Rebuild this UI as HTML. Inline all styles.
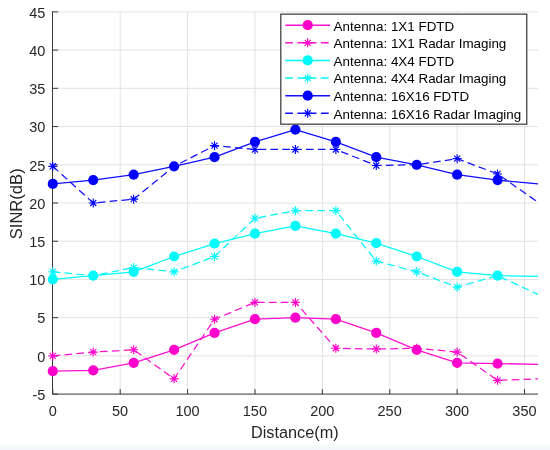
<!DOCTYPE html>
<html lang="en"><head><meta charset="utf-8"><title>SINR vs Distance</title>
<style>html,body{margin:0;padding:0;background:#fff;}body{width:550px;height:450px;position:relative;overflow:hidden;font-family:"Liberation Sans",Arial,sans-serif;}</style>
</head><body>
<svg width="550" height="450" viewBox="0 0 550 450" style="display:block;position:absolute;left:0;top:0" font-family="Liberation Sans, Arial, Helvetica, sans-serif">
<rect width="550" height="450" fill="#fff"/>
<defs><linearGradient id="bs" x1="0" y1="0" x2="0" y2="1"><stop offset="0" stop-color="#ffffff"/><stop offset="0.45" stop-color="#f5fafb"/><stop offset="1" stop-color="#f2f8fa"/></linearGradient></defs>
<rect x="0" y="443.5" width="550" height="6.5" fill="url(#bs)"/>
<path d="M52.80 355.90H538.01M52.80 317.67H538.01M52.80 279.45H538.01M52.80 241.22H538.01M52.80 203.00H538.01M52.80 164.77H538.01M52.80 126.55H538.01M52.80 88.32H538.01M52.80 50.10H538.01M52.80 11.88H538.01M120.19 394.12V11.88M187.58 394.12V11.88M254.97 394.12V11.88M322.36 394.12V11.88M389.75 394.12V11.88M457.14 394.12V11.88M524.53 394.12V11.88" stroke="#e2e2e2" stroke-width="1" fill="none"/>
<path d="M52.5 11.38V394.12H538.01M52.5 394.12h5.5M52.5 355.90h5.5M52.5 317.67h5.5M52.5 279.45h5.5M52.5 241.22h5.5M52.5 203.00h5.5M52.5 164.77h5.5M52.5 126.55h5.5M52.5 88.32h5.5M52.5 50.10h5.5M52.5 11.88h5.5M52.80 394.12v-5M120.19 394.12v-5M187.58 394.12v-5M254.97 394.12v-5M322.36 394.12v-5M389.75 394.12v-5M457.14 394.12v-5M524.53 394.12v-5" stroke="#383838" stroke-width="1" fill="none"/>
<polyline points="52.80,371.19 93.23,370.43 133.67,362.78 174.10,349.78 214.54,332.96 254.97,319.20 295.40,317.67 335.84,319.20 376.27,332.96 416.71,349.78 457.14,362.78 497.57,363.54 538.01,364.31" fill="none" stroke="#ff10d0" stroke-width="1.3" stroke-linejoin="round"/>
<circle cx="52.80" cy="371.19" r="5.1" fill="#ff00cc"/>
<circle cx="93.23" cy="370.43" r="5.1" fill="#ff00cc"/>
<circle cx="133.67" cy="362.78" r="5.1" fill="#ff00cc"/>
<circle cx="174.10" cy="349.78" r="5.1" fill="#ff00cc"/>
<circle cx="214.54" cy="332.96" r="5.1" fill="#ff00cc"/>
<circle cx="254.97" cy="319.20" r="5.1" fill="#ff00cc"/>
<circle cx="295.40" cy="317.67" r="5.1" fill="#ff00cc"/>
<circle cx="335.84" cy="319.20" r="5.1" fill="#ff00cc"/>
<circle cx="376.27" cy="332.96" r="5.1" fill="#ff00cc"/>
<circle cx="416.71" cy="349.78" r="5.1" fill="#ff00cc"/>
<circle cx="457.14" cy="362.78" r="5.1" fill="#ff00cc"/>
<circle cx="497.57" cy="363.54" r="5.1" fill="#ff00cc"/>
<polyline points="52.80,355.90 93.23,352.08 133.67,349.78 174.10,378.83 214.54,319.20 254.97,302.38 295.40,302.38 335.84,348.25 376.27,349.02 416.71,348.25 457.14,352.08 497.57,380.36 538.01,378.83" fill="none" stroke="#ff10d0" stroke-width="1.25" stroke-dasharray="7.6 4.25" stroke-linejoin="round"/>
<path d="M48.30 355.90L57.30 355.90M49.78 352.88L55.82 358.92M52.80 351.40L52.80 360.40M55.82 352.88L49.78 358.92" stroke="#ff00cc" stroke-width="1.15" fill="none"/>
<path d="M88.73 352.08L97.73 352.08M90.21 349.05L96.26 355.10M93.23 347.58L93.23 356.58M96.26 349.05L90.21 355.10" stroke="#ff00cc" stroke-width="1.15" fill="none"/>
<path d="M129.17 349.78L138.17 349.78M130.65 346.76L136.69 352.81M133.67 345.28L133.67 354.28M136.69 346.76L130.65 352.81" stroke="#ff00cc" stroke-width="1.15" fill="none"/>
<path d="M169.60 378.83L178.60 378.83M171.08 375.81L177.12 381.86M174.10 374.33L174.10 383.33M177.12 375.81L171.08 381.86" stroke="#ff00cc" stroke-width="1.15" fill="none"/>
<path d="M210.04 319.20L219.04 319.20M211.51 316.18L217.56 322.23M214.54 314.70L214.54 323.70M217.56 316.18L211.51 322.23" stroke="#ff00cc" stroke-width="1.15" fill="none"/>
<path d="M250.47 302.38L259.47 302.38M251.95 299.36L257.99 305.41M254.97 297.88L254.97 306.88M257.99 299.36L251.95 305.41" stroke="#ff00cc" stroke-width="1.15" fill="none"/>
<path d="M290.90 302.38L299.90 302.38M292.38 299.36L298.43 305.41M295.40 297.88L295.40 306.88M298.43 299.36L292.38 305.41" stroke="#ff00cc" stroke-width="1.15" fill="none"/>
<path d="M331.34 348.25L340.34 348.25M332.82 345.23L338.86 351.28M335.84 343.75L335.84 352.75M338.86 345.23L332.82 351.28" stroke="#ff00cc" stroke-width="1.15" fill="none"/>
<path d="M371.77 349.02L380.77 349.02M373.25 346.00L379.29 352.04M376.27 344.52L376.27 353.52M379.29 346.00L373.25 352.04" stroke="#ff00cc" stroke-width="1.15" fill="none"/>
<path d="M412.21 348.25L421.21 348.25M413.68 345.23L419.73 351.28M416.71 343.75L416.71 352.75M419.73 345.23L413.68 351.28" stroke="#ff00cc" stroke-width="1.15" fill="none"/>
<path d="M452.64 352.08L461.64 352.08M454.12 349.05L460.16 355.10M457.14 347.58L457.14 356.58M460.16 349.05L454.12 355.10" stroke="#ff00cc" stroke-width="1.15" fill="none"/>
<path d="M493.07 380.36L502.07 380.36M494.55 377.34L500.60 383.39M497.57 375.86L497.57 384.86M500.60 377.34L494.55 383.39" stroke="#ff00cc" stroke-width="1.15" fill="none"/>
<polyline points="52.80,279.45 93.23,275.63 133.67,271.80 174.10,256.51 214.54,243.52 254.97,233.58 295.40,225.93 335.84,233.58 376.27,243.14 416.71,256.51 457.14,271.80 497.57,275.63 538.01,276.39" fill="none" stroke="#00fafa" stroke-width="1.3" stroke-linejoin="round"/>
<circle cx="52.80" cy="279.45" r="5.1" fill="#00fafa"/>
<circle cx="93.23" cy="275.63" r="5.1" fill="#00fafa"/>
<circle cx="133.67" cy="271.80" r="5.1" fill="#00fafa"/>
<circle cx="174.10" cy="256.51" r="5.1" fill="#00fafa"/>
<circle cx="214.54" cy="243.52" r="5.1" fill="#00fafa"/>
<circle cx="254.97" cy="233.58" r="5.1" fill="#00fafa"/>
<circle cx="295.40" cy="225.93" r="5.1" fill="#00fafa"/>
<circle cx="335.84" cy="233.58" r="5.1" fill="#00fafa"/>
<circle cx="376.27" cy="243.14" r="5.1" fill="#00fafa"/>
<circle cx="416.71" cy="256.51" r="5.1" fill="#00fafa"/>
<circle cx="457.14" cy="271.80" r="5.1" fill="#00fafa"/>
<circle cx="497.57" cy="275.63" r="5.1" fill="#00fafa"/>
<polyline points="52.80,271.80 93.23,275.63 133.67,267.60 174.10,271.80 214.54,256.51 254.97,218.29 295.40,210.64 335.84,210.64 376.27,261.10 416.71,271.80 457.14,287.09 497.57,275.63 538.01,294.36" fill="none" stroke="#00fafa" stroke-width="1.25" stroke-dasharray="7.6 4.25" stroke-linejoin="round"/>
<path d="M48.30 271.80L57.30 271.80M49.78 268.78L55.82 274.83M52.80 267.30L52.80 276.30M55.82 268.78L49.78 274.83" stroke="#00fafa" stroke-width="1.15" fill="none"/>
<path d="M88.73 275.63L97.73 275.63M90.21 272.60L96.26 278.65M93.23 271.13L93.23 280.13M96.26 272.60L90.21 278.65" stroke="#00fafa" stroke-width="1.15" fill="none"/>
<path d="M129.17 267.60L138.17 267.60M130.65 264.58L136.69 270.62M133.67 263.10L133.67 272.10M136.69 264.58L130.65 270.62" stroke="#00fafa" stroke-width="1.15" fill="none"/>
<path d="M169.60 271.80L178.60 271.80M171.08 268.78L177.12 274.83M174.10 267.30L174.10 276.30M177.12 268.78L171.08 274.83" stroke="#00fafa" stroke-width="1.15" fill="none"/>
<path d="M210.04 256.51L219.04 256.51M211.51 253.49L217.56 259.54M214.54 252.01L214.54 261.01M217.56 253.49L211.51 259.54" stroke="#00fafa" stroke-width="1.15" fill="none"/>
<path d="M250.47 218.29L259.47 218.29M251.95 215.27L257.99 221.31M254.97 213.79L254.97 222.79M257.99 215.27L251.95 221.31" stroke="#00fafa" stroke-width="1.15" fill="none"/>
<path d="M290.90 210.64L299.90 210.64M292.38 207.62L298.43 213.67M295.40 206.14L295.40 215.14M298.43 207.62L292.38 213.67" stroke="#00fafa" stroke-width="1.15" fill="none"/>
<path d="M331.34 210.64L340.34 210.64M332.82 207.62L338.86 213.67M335.84 206.14L335.84 215.14M338.86 207.62L332.82 213.67" stroke="#00fafa" stroke-width="1.15" fill="none"/>
<path d="M371.77 261.10L380.77 261.10M373.25 258.08L379.29 264.12M376.27 256.60L376.27 265.60M379.29 258.08L373.25 264.12" stroke="#00fafa" stroke-width="1.15" fill="none"/>
<path d="M412.21 271.80L421.21 271.80M413.68 268.78L419.73 274.83M416.71 267.30L416.71 276.30M419.73 268.78L413.68 274.83" stroke="#00fafa" stroke-width="1.15" fill="none"/>
<path d="M452.64 287.09L461.64 287.09M454.12 284.07L460.16 290.12M457.14 282.59L457.14 291.59M460.16 284.07L454.12 290.12" stroke="#00fafa" stroke-width="1.15" fill="none"/>
<path d="M493.07 275.63L502.07 275.63M494.55 272.60L500.60 278.65M497.57 271.13L497.57 280.13M500.60 272.60L494.55 278.65" stroke="#00fafa" stroke-width="1.15" fill="none"/>
<polyline points="52.80,183.89 93.23,180.06 133.67,174.71 174.10,166.30 214.54,157.13 254.97,141.84 295.40,129.61 335.84,141.84 376.27,157.13 416.71,164.77 457.14,174.71 497.57,180.06 538.01,183.89" fill="none" stroke="#1010ff" stroke-width="1.3" stroke-linejoin="round"/>
<circle cx="52.80" cy="183.89" r="5.1" fill="#0000ff"/>
<circle cx="93.23" cy="180.06" r="5.1" fill="#0000ff"/>
<circle cx="133.67" cy="174.71" r="5.1" fill="#0000ff"/>
<circle cx="174.10" cy="166.30" r="5.1" fill="#0000ff"/>
<circle cx="214.54" cy="157.13" r="5.1" fill="#0000ff"/>
<circle cx="254.97" cy="141.84" r="5.1" fill="#0000ff"/>
<circle cx="295.40" cy="129.61" r="5.1" fill="#0000ff"/>
<circle cx="335.84" cy="141.84" r="5.1" fill="#0000ff"/>
<circle cx="376.27" cy="157.13" r="5.1" fill="#0000ff"/>
<circle cx="416.71" cy="164.77" r="5.1" fill="#0000ff"/>
<circle cx="457.14" cy="174.71" r="5.1" fill="#0000ff"/>
<circle cx="497.57" cy="180.06" r="5.1" fill="#0000ff"/>
<polyline points="52.80,166.30 93.23,203.00 133.67,199.18 174.10,166.30 214.54,145.66 254.97,149.48 295.40,149.48 335.84,149.48 376.27,165.54 416.71,164.77 457.14,158.66 497.57,173.95 538.01,202.24" fill="none" stroke="#1010ff" stroke-width="1.25" stroke-dasharray="7.6 4.25" stroke-linejoin="round"/>
<path d="M48.30 166.30L57.30 166.30M49.78 163.28L55.82 169.33M52.80 161.80L52.80 170.80M55.82 163.28L49.78 169.33" stroke="#0000ff" stroke-width="1.15" fill="none"/>
<path d="M88.73 203.00L97.73 203.00M90.21 199.98L96.26 206.02M93.23 198.50L93.23 207.50M96.26 199.98L90.21 206.02" stroke="#0000ff" stroke-width="1.15" fill="none"/>
<path d="M129.17 199.18L138.17 199.18M130.65 196.15L136.69 202.20M133.67 194.68L133.67 203.68M136.69 196.15L130.65 202.20" stroke="#0000ff" stroke-width="1.15" fill="none"/>
<path d="M169.60 166.30L178.60 166.30M171.08 163.28L177.12 169.33M174.10 161.80L174.10 170.80M177.12 163.28L171.08 169.33" stroke="#0000ff" stroke-width="1.15" fill="none"/>
<path d="M210.04 145.66L219.04 145.66M211.51 142.64L217.56 148.69M214.54 141.16L214.54 150.16M217.56 142.64L211.51 148.69" stroke="#0000ff" stroke-width="1.15" fill="none"/>
<path d="M250.47 149.48L259.47 149.48M251.95 146.46L257.99 152.51M254.97 144.98L254.97 153.98M257.99 146.46L251.95 152.51" stroke="#0000ff" stroke-width="1.15" fill="none"/>
<path d="M290.90 149.48L299.90 149.48M292.38 146.46L298.43 152.51M295.40 144.98L295.40 153.98M298.43 146.46L292.38 152.51" stroke="#0000ff" stroke-width="1.15" fill="none"/>
<path d="M331.34 149.48L340.34 149.48M332.82 146.46L338.86 152.51M335.84 144.98L335.84 153.98M338.86 146.46L332.82 152.51" stroke="#0000ff" stroke-width="1.15" fill="none"/>
<path d="M371.77 165.54L380.77 165.54M373.25 162.52L379.29 168.56M376.27 161.04L376.27 170.04M379.29 162.52L373.25 168.56" stroke="#0000ff" stroke-width="1.15" fill="none"/>
<path d="M412.21 164.77L421.21 164.77M413.68 161.75L419.73 167.80M416.71 160.27L416.71 169.27M419.73 161.75L413.68 167.80" stroke="#0000ff" stroke-width="1.15" fill="none"/>
<path d="M452.64 158.66L461.64 158.66M454.12 155.64L460.16 161.68M457.14 154.16L457.14 163.16M460.16 155.64L454.12 161.68" stroke="#0000ff" stroke-width="1.15" fill="none"/>
<path d="M493.07 173.95L502.07 173.95M494.55 170.93L500.60 176.97M497.57 169.45L497.57 178.45M500.60 170.93L494.55 176.97" stroke="#0000ff" stroke-width="1.15" fill="none"/>
<g font-size="14.5" fill="#262626">
<text x="45.3" y="399.88" text-anchor="end">-5</text>
<text x="45.3" y="361.65" text-anchor="end">0</text>
<text x="45.3" y="323.42" text-anchor="end">5</text>
<text x="45.3" y="285.20" text-anchor="end">10</text>
<text x="45.3" y="246.97" text-anchor="end">15</text>
<text x="45.3" y="208.75" text-anchor="end">20</text>
<text x="45.3" y="170.52" text-anchor="end">25</text>
<text x="45.3" y="132.30" text-anchor="end">30</text>
<text x="45.3" y="94.07" text-anchor="end">35</text>
<text x="45.3" y="55.85" text-anchor="end">40</text>
<text x="45.3" y="17.62" text-anchor="end">45</text>
<text x="52.70" y="415.6" text-anchor="middle">0</text>
<text x="120.09" y="415.6" text-anchor="middle">50</text>
<text x="187.48" y="415.6" text-anchor="middle">100</text>
<text x="254.87" y="415.6" text-anchor="middle">150</text>
<text x="322.26" y="415.6" text-anchor="middle">200</text>
<text x="389.65" y="415.6" text-anchor="middle">250</text>
<text x="457.04" y="415.6" text-anchor="middle">300</text>
<text x="524.43" y="415.6" text-anchor="middle">350</text>
</g>
<g fill="#262626">
<text x="294.8" y="438" font-size="16.25" text-anchor="middle">Distance(m)</text>
<text transform="translate(21.5 203.8) rotate(-90)" font-size="16.6" text-anchor="middle">SINR(dB)</text>
</g>
<rect x="280.8" y="14.15" width="245.95" height="110.05" fill="#fff" stroke="#444" stroke-width="1.3"/>
<g font-size="13.4" fill="#000">
<path d="M285.3 25.20H330.1" stroke="#ff10d0" stroke-width="1.5"/>
<circle cx="307.7" cy="25.20" r="5.1" fill="#ff00cc"/>
<text x="333.6" y="30.50">Antenna: 1X1 FDTD</text>
<path d="M285.2 42.82H292.9M297.4 42.82H316.5M320.9 42.82H328.7" stroke="#ff10d0" stroke-width="1.4"/>
<path d="M303.20 42.82L312.20 42.82M304.68 39.80L310.72 45.84M307.70 38.32L307.70 47.32M310.72 39.80L304.68 45.84" stroke="#ff00cc" stroke-width="1.15" fill="none"/>
<text x="333.6" y="48.12">Antenna: 1X1 Radar Imaging</text>
<path d="M285.3 60.44H330.1" stroke="#00fafa" stroke-width="1.5"/>
<circle cx="307.7" cy="60.44" r="5.1" fill="#00fafa"/>
<text x="333.6" y="65.74">Antenna: 4X4 FDTD</text>
<path d="M285.2 78.06H292.9M297.4 78.06H316.5M320.9 78.06H328.7" stroke="#00fafa" stroke-width="1.4"/>
<path d="M303.20 78.06L312.20 78.06M304.68 75.04L310.72 81.08M307.70 73.56L307.70 82.56M310.72 75.04L304.68 81.08" stroke="#00fafa" stroke-width="1.15" fill="none"/>
<text x="333.6" y="83.36">Antenna: 4X4 Radar Imaging</text>
<path d="M285.3 95.68H330.1" stroke="#1010ff" stroke-width="1.5"/>
<circle cx="307.7" cy="95.68" r="5.1" fill="#0000ff"/>
<text x="333.6" y="100.98">Antenna: 16X16 FDTD</text>
<path d="M285.2 113.30H292.9M297.4 113.30H316.5M320.9 113.30H328.7" stroke="#1010ff" stroke-width="1.4"/>
<path d="M303.20 113.30L312.20 113.30M304.68 110.28L310.72 116.32M307.70 108.80L307.70 117.80M310.72 110.28L304.68 116.32" stroke="#0000ff" stroke-width="1.15" fill="none"/>
<text x="333.6" y="118.60">Antenna: 16X16 Radar Imaging</text>
</g>
</svg>
</body></html>
